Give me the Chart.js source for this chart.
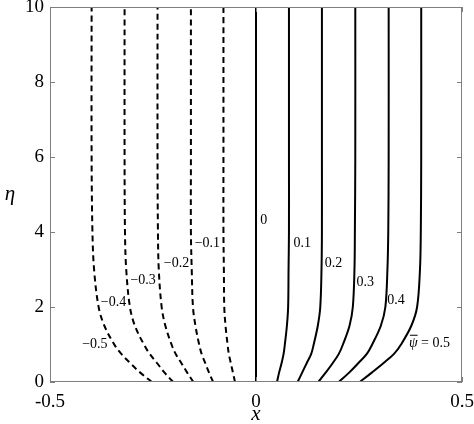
<!DOCTYPE html>
<html>
<head>
<meta charset="utf-8">
<script src="https://cdn.jsdelivr.net/npm/chart.js@4.4.1/dist/chart.umd.min.js"></script>
<style>
  html, body { margin: 0; padding: 0; background: #fff; }
</style>
</head>
<body>
<canvas id="chart" width="474" height="424"></canvas>
<script>
const eta = [0, 0.25, 0.5, 0.75, 1, 1.5, 2, 3, 4, 6, 10];

// x position of each streamline (psi level) at those eta values
const xPsiM05 = [-0.253, -0.281, -0.305, -0.327, -0.344, -0.368, -0.382, -0.393, -0.397, -0.399, -0.399];
const xPsiM04 = [-0.201, -0.222, -0.240, -0.258, -0.272, -0.294, -0.306, -0.315, -0.318, -0.319, -0.319];
const xPsiM03 = [-0.152, -0.167, -0.181, -0.195, -0.205, -0.220, -0.229, -0.236, -0.238, -0.239, -0.239];
const xPsiM02 = [-0.104, -0.114, -0.123, -0.132, -0.138, -0.147, -0.153, -0.156, -0.158, -0.158, -0.158];
const xPsiM01 = [-0.051, -0.056, -0.061, -0.066, -0.069, -0.074, -0.077, -0.078, -0.079, -0.079, -0.079];
const xPsi0   = [0, 0, 0, 0, 0, 0, 0, 0, 0, 0, 0];
const xPsi01  = [0.051, 0.056, 0.062, 0.067, 0.070, 0.075, 0.078, 0.079, 0.080, 0.080, 0.080];
const xPsi02  = [0.101, 0.112, 0.123, 0.134, 0.140, 0.150, 0.156, 0.159, 0.160, 0.160, 0.160];
const xPsi03  = [0.151, 0.169, 0.186, 0.201, 0.211, 0.227, 0.235, 0.239, 0.240, 0.241, 0.241];
const xPsi04  = [0.201, 0.226, 0.248, 0.269, 0.282, 0.303, 0.314, 0.319, 0.321, 0.322, 0.322];
const xPsi05  = [0.252, 0.281, 0.309, 0.335, 0.352, 0.377, 0.391, 0.398, 0.400, 0.401, 0.401];

const psiLevels = [-0.5, -0.4, -0.3, -0.2, -0.1, 0, 0.1, 0.2, 0.3, 0.4, 0.5];
const curves = [xPsiM05, xPsiM04, xPsiM03, xPsiM02, xPsiM01, xPsi0, xPsi01, xPsi02, xPsi03, xPsi04, xPsi05];

// contour labels and where they sit (data units)
const labelText = ['\u22120.5', '\u22120.4', '\u22120.3', '\u22120.2', '\u22120.1', '0', '0.1', '0.2', '0.3', '0.4', '0.5'];
const labelX    = [-0.391, -0.346, -0.274, -0.193, -0.118, 0.019, 0.112, 0.188, 0.265, 0.340, 0.421];
const labelEta  = [1.0, 2.13, 2.71, 3.17, 3.71, 4.31, 3.71, 3.17, 2.67, 2.18, 1.02];

const xTicks = [-0.5, 0, 0.5];
const yTicks = [0, 2, 4, 6, 8, 10];

const SERIF = '"Liberation Serif", "DejaVu Serif", serif';

const datasets = curves.map((xs, i) => ({
  label: 'psi = ' + psiLevels[i],
  data: eta.map((e, j) => ({ x: xs[j], y: e })),
  showLine: true,
  borderColor: '#000',
  borderWidth: 2,
  borderDash: psiLevels[i] < 0 ? [6, 4] : [],
  pointRadius: 0,
  tension: 0.35,
  fill: false,
}));

const frame = {
  id: 'frame',
  afterDatasetsDraw(chart) {
    const { ctx, chartArea: a, scales: { x, y } } = chart;
    ctx.save();
    // box + inward ticks
    ctx.strokeStyle = '#7f7f7f';
    ctx.lineWidth = 1;
    ctx.setLineDash([]);
    ctx.strokeRect(a.left + 0.5, a.top + 0.5, a.right - a.left - 1, a.bottom - a.top - 1);
    ctx.beginPath();
    yTicks.forEach(v => {
      const py = Math.round(y.getPixelForValue(v)) + 0.5;
      ctx.moveTo(a.left, py); ctx.lineTo(a.left + 5, py);
      ctx.moveTo(a.right, py); ctx.lineTo(a.right - 5, py);
    });
    xTicks.forEach(v => {
      const px = Math.round(x.getPixelForValue(v)) + 0.5;
      ctx.moveTo(px, a.bottom); ctx.lineTo(px, a.bottom - 5);
      ctx.moveTo(px, a.top); ctx.lineTo(px, a.top + 5);
    });
    ctx.stroke();

    // contour labels
    ctx.fillStyle = '#000';
    ctx.textBaseline = 'middle';
    ctx.textAlign = 'center';
    labelText.forEach((t, i) => {
      const px = x.getPixelForValue(labelX[i]);
      const py = y.getPixelForValue(labelEta[i]);
      if (i === labelText.length - 1) {
        // psi-bar = 0.5
        ctx.font = 'italic 14px ' + SERIF;
        const wPsi = ctx.measureText('\u03C8').width;
        ctx.font = '14px ' + SERIF;
        const rest = ' = ' + t;
        const wRest = ctx.measureText(rest).width;
        const x0 = px - (wPsi + wRest) / 2;
        ctx.textAlign = 'left';
        ctx.font = 'italic 14px ' + SERIF;
        ctx.fillText('\u03C8', x0, py);
        ctx.fillRect(x0 + 1, py - 9, wPsi - 1, 1);
        ctx.font = '14px ' + SERIF;
        ctx.fillText(rest, x0 + wPsi, py);
        ctx.textAlign = 'center';
      } else {
        ctx.font = '14px ' + SERIF;
        ctx.fillText(t, px, py);
      }
    });

    // axis titles
    ctx.font = 'italic 21px ' + SERIF;
    ctx.fillText('x', (a.left + a.right) / 2, 414);
    ctx.fillText('\u03B7', 10, (a.top + a.bottom) / 2);
    ctx.restore();
  }
};

new Chart(document.getElementById('chart'), {
  type: 'scatter',
  data: { datasets },
  options: {
    responsive: false,
    animation: false,
    layout: { padding: { top: 7, right: 12, left: 0, bottom: 0 } },
    plugins: { legend: { display: false }, tooltip: { enabled: false } },
    scales: {
      x: {
        type: 'linear', min: -0.5, max: 0.5,
        grid: { display: false, drawTicks: false },
        border: { display: false },
        afterBuildTicks: s => { s.ticks = xTicks.map(v => ({ value: v })); },
        ticks: {
          color: '#000', padding: 9, maxRotation: 0, autoSkip: false,
          font: { family: SERIF, size: 19 },
          callback: v => String(v)
        },
        afterFit: s => { s.height = 42; s.paddingLeft = 0; s.paddingRight = 0; }
      },
      y: {
        type: 'linear', min: 0, max: 10,
        grid: { display: false, drawTicks: false },
        border: { display: false },
        afterBuildTicks: s => { s.ticks = yTicks.map(v => ({ value: v })); },
        ticks: {
          color: '#000', padding: 6,
          font: { family: SERIF, size: 19 },
          callback: v => String(v)
        },
        afterFit: s => { s.width = 50; s.paddingTop = 0; s.paddingBottom = 0; }
      }
    }
  },
  plugins: [frame]
});
</script>
</body>
</html>
